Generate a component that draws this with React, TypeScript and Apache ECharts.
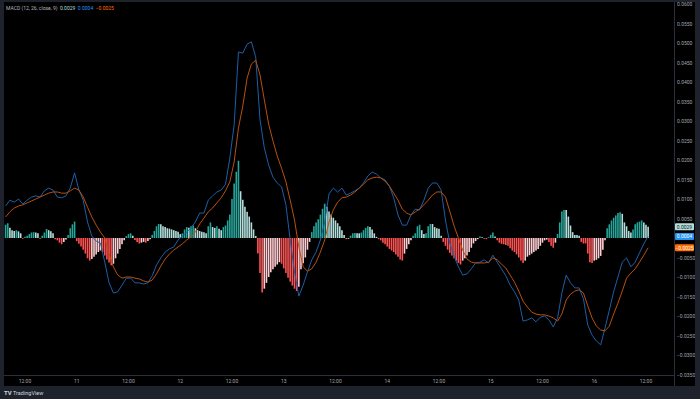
import React, { useEffect, useRef } from "react";
import * as echarts from "echarts";

// Time is expressed in hours after day 10, 00:00 (30-minute bars)
const BAR_START_HOUR = 7.5;
const BAR_STEP_HOURS = 0.5;
const LINE_START_HOUR = 7.5;
const LINE_STEP_HOURS = 1;

// MACD histogram (one value per 30-minute bar)
const histogram = [
  0.0034, 0.0038, 0.0026, 0.0020, 0.0018, 0.0020, 0.0017, 0.0012, -0.0002, 0.0003,
  0.0006, 0.0010, 0.0014, 0.0015, 0.0014, 0.0012, -0.0002, 0.0006, 0.0014, 0.0023,
  0.0020, 0.0017, 0.0012, -0.0003, -0.0006, -0.0012, -0.0016, -0.0010, -0.0004, 0.0008,
  0.0025, 0.0035, 0.0042, -0.0008, -0.0015, -0.0022, -0.0030, -0.0040, -0.0052, -0.0058,
  -0.0054, -0.0048, -0.0042, -0.0036, -0.0032, -0.0036, -0.0045, -0.0055, -0.0063, -0.0070,
  -0.0066, -0.0052, -0.0040, -0.0028, -0.0016, -0.0006, 0.0005, 0.0010, 0.0012, 0.0006,
  -0.0005, -0.0010, -0.0014, -0.0012, -0.0010, -0.0012, -0.0008, -0.0003, 0.0008, 0.0018,
  0.0030, 0.0036, 0.0035, 0.0030, 0.0028, 0.0025, 0.0024, 0.0022, 0.0020, 0.0018,
  0.0016, 0.0010, 0.0012, 0.0022, 0.0028, 0.0026, 0.0030, 0.0032, 0.0025, 0.0020,
  0.0018, 0.0016, 0.0015, 0.0012, 0.0030, 0.0040, 0.0028, 0.0026, 0.0030, 0.0024,
  0.0020, 0.0028, 0.0032, 0.0045, 0.0060, 0.0100, 0.0140, 0.0170, 0.0198, 0.0120,
  0.0098, 0.0080, 0.0067, 0.0055, 0.0040, 0.0022, 0.0005, -0.0040, -0.0090, -0.0140,
  -0.0130, -0.0115, -0.0100, -0.0088, -0.0080, -0.0074, -0.0068, -0.0062, -0.0066, -0.0078,
  -0.0090, -0.0102, -0.0112, -0.0122, -0.0130, -0.0136, -0.0125, -0.0080, -0.0065, -0.0050,
  -0.0030, -0.0010, 0.0015, 0.0030, 0.0040, 0.0048, 0.0060, 0.0075, 0.0088, 0.0080,
  0.0068, 0.0060, 0.0052, 0.0045, 0.0038, 0.0030, 0.0020, 0.0008, -0.0003, -0.0002,
  0.0006, 0.0012, 0.0013, 0.0012, 0.0012, 0.0014, 0.0020, 0.0026, 0.0030, 0.0028,
  0.0022, 0.0012, 0.0003, -0.0003, -0.0006, -0.0012, -0.0016, -0.0022, -0.0028, -0.0032,
  -0.0036, -0.0042, -0.0048, -0.0055, -0.0058, -0.0040, -0.0028, -0.0016, -0.0006, 0.0006,
  0.0012, 0.0030, 0.0034, 0.0020, 0.0010, 0.0012, 0.0030, 0.0036, 0.0036, 0.0028,
  0.0025, 0.0024, 0.0006, -0.0010, -0.0020, -0.0030, -0.0038, -0.0045, -0.0052, -0.0058,
  -0.0064, -0.0068, -0.0058, -0.0052, -0.0045, -0.0036, -0.0025, -0.0014, -0.0008, -0.0003,
  0.0004, 0.0002, -0.0002, -0.0003, 0.0002, 0.0008, 0.0014, 0.0004, -0.0006, -0.0012,
  -0.0015, -0.0016, -0.0018, -0.0020, -0.0026, -0.0032, -0.0036, -0.0042, -0.0050, -0.0058,
  -0.0064, -0.0058, -0.0048, -0.0044, -0.0040, -0.0036, -0.0032, -0.0028, -0.0020, -0.0012,
  -0.0006, -0.0004, -0.0010, -0.0020, -0.0025, -0.0012, 0.0010, 0.0040, 0.0068, 0.0072,
  0.0072, 0.0055, 0.0032, 0.0015, 0.0008, 0.0008, 0.0006, -0.0010, -0.0014, -0.0014,
  -0.0040, -0.0062, -0.0064, -0.0058, -0.0056, -0.0052, -0.0046, -0.0030, -0.0006, 0.0025,
  0.0035, 0.0045, 0.0052, 0.0058, 0.0064, 0.0066, 0.0062, 0.0040, 0.0030, 0.0018,
  0.0014, 0.0022, 0.0035, 0.0040, 0.0042, 0.0045, 0.0040, 0.0034, 0.0029,
];

// MACD line (hourly samples)
const macdLine = [
  0.0082, 0.0097, 0.0092, 0.0100, 0.0087, 0.0097, 0.0105, 0.0108, 0.0105, 0.0121,
  0.0128, 0.0123, 0.0105, 0.0103, 0.0108, 0.0128, 0.0167, 0.0123, 0.0097, 0.0041,
  0.0005, -0.0008, -0.0013, -0.0062, -0.0115, -0.0141, -0.0138, -0.0121, -0.0103, -0.0103,
  -0.0115, -0.0115, -0.0118, -0.0115, -0.0097, -0.0069, -0.0051, -0.0036, -0.0028, -0.0023,
  -0.0005, 0.0005, 0.0015, 0.0026, 0.0041, 0.0064, 0.0064, 0.0097, 0.0108, 0.0118,
  0.0123, 0.0138, 0.0205, 0.0290, 0.0477, 0.0474, 0.0497, 0.0503, 0.0464, 0.0303,
  0.0231, 0.0187, 0.0156, 0.0141, 0.0131, 0.0085, -0.0005, -0.0087, -0.0149, -0.0121,
  -0.0087, -0.0056, -0.0036, -0.0005, 0.0041, 0.0113, 0.0128, 0.0118, 0.0128, 0.0110,
  0.0115, 0.0121, 0.0128, 0.0141, 0.0159, 0.0169, 0.0164, 0.0154, 0.0149, 0.0133,
  0.0103, 0.0059, 0.0033, 0.0033, 0.0059, 0.0074, 0.0072, 0.0097, 0.0128, 0.0141,
  0.0141, 0.0123, 0.0046, -0.0013, -0.0046, -0.0074, -0.0095, -0.0092, -0.0079, -0.0064,
  -0.0062, -0.0056, -0.0064, -0.0044, -0.0062, -0.0079, -0.0097, -0.0121, -0.0138, -0.0159,
  -0.0213, -0.0210, -0.0205, -0.0215, -0.0203, -0.0200, -0.0210, -0.0228, -0.0205, -0.0141,
  -0.0095, -0.0115, -0.0128, -0.0128, -0.0156, -0.0223, -0.0249, -0.0264, -0.0274, -0.0231,
  -0.0185, -0.0138, -0.0100, -0.0062, -0.0051, -0.0074, -0.0062, -0.0038, -0.0015, 0.0004,
];

// Signal line (hourly samples)
const signalLine = [
  0.0054, 0.0067, 0.0077, 0.0082, 0.0085, 0.0090, 0.0095, 0.0100, 0.0105, 0.0110,
  0.0115, 0.0118, 0.0118, 0.0115, 0.0115, 0.0121, 0.0128, 0.0123, 0.0105, 0.0079,
  0.0054, 0.0033, 0.0015, 0.0000, -0.0041, -0.0074, -0.0095, -0.0103, -0.0100, -0.0100,
  -0.0103, -0.0105, -0.0110, -0.0113, -0.0108, -0.0092, -0.0072, -0.0054, -0.0041, -0.0031,
  -0.0023, -0.0015, -0.0005, 0.0003, 0.0015, 0.0036, 0.0051, 0.0067, 0.0077, 0.0090,
  0.0103, 0.0121, 0.0144, 0.0195, 0.0282, 0.0338, 0.0410, 0.0446, 0.0456, 0.0418,
  0.0354, 0.0292, 0.0249, 0.0210, 0.0179, 0.0144, 0.0097, 0.0046, -0.0023, -0.0074,
  -0.0085, -0.0079, -0.0062, -0.0036, -0.0005, 0.0041, 0.0072, 0.0092, 0.0103, 0.0105,
  0.0110, 0.0118, 0.0128, 0.0138, 0.0149, 0.0154, 0.0156, 0.0154, 0.0146, 0.0133,
  0.0115, 0.0097, 0.0074, 0.0064, 0.0059, 0.0067, 0.0074, 0.0085, 0.0097, 0.0110,
  0.0118, 0.0118, 0.0105, 0.0069, 0.0031, 0.0000, -0.0031, -0.0054, -0.0062, -0.0064,
  -0.0064, -0.0064, -0.0062, -0.0051, -0.0056, -0.0067, -0.0077, -0.0095, -0.0113, -0.0136,
  -0.0162, -0.0177, -0.0190, -0.0195, -0.0197, -0.0197, -0.0200, -0.0205, -0.0213, -0.0195,
  -0.0159, -0.0144, -0.0136, -0.0133, -0.0141, -0.0174, -0.0205, -0.0226, -0.0236, -0.0238,
  -0.0226, -0.0195, -0.0167, -0.0136, -0.0103, -0.0090, -0.0079, -0.0062, -0.0044, -0.0025,
];

// Time-axis ticks (hours) and their labels
const timeTickHours = [12, 24, 36, 48, 60, 72, 84, 96, 108, 120, 132, 144, 156];
const timeTickLabels = ["12:00", "11", "12:00", "12", "12:00", "13", "12:00", "14", "12:00", "15", "12:00", "16", "12:00"];

const LEGEND_TITLE = "MACD (12, 26, close, 9)";

const GROW_ABOVE = "#26a69a";
const FALL_ABOVE = "#b2dfdb";
const GROW_BELOW = "#ffcdd2";
const FALL_BELOW = "#ff5252";
const MACD_COLOR = "#2196f3";
const SIGNAL_COLOR = "#ff6d00";
const MACD_LINE_COLOR = "#1d5ea6";
const SIGNAL_LINE_COLOR = "#b9500f";
const FRAME = "#1e222d";
const SEP = "#2a2e39";
const TEXT = "#a3a6af";
const FONT = "Roboto, 'Noto Sans', sans-serif";

const fmt = (v: number) => (v < 0 ? "\u2212" : "") + Math.abs(v).toFixed(4);

export default function App() {
  const ref = useRef<HTMLDivElement>(null);

  useEffect(() => {
    document.body.style.margin = "0";
    const el = ref.current!;
    const chart = echarts.init(el, undefined, { renderer: "svg", width: 700, height: 399 });

    const histData = histogram.map((v, i) => {
      const prev = i > 0 ? histogram[i - 1] : v - 0.0001;
      let color: string;
      if (v >= 0) color = v > prev ? GROW_ABOVE : FALL_ABOVE;
      else color = v > prev ? GROW_BELOW : FALL_BELOW;
      return { value: [BAR_START_HOUR + i * BAR_STEP_HOURS, v], itemStyle: { color } };
    });
    const macdData = macdLine.map((v, j) => [LINE_START_HOUR + j * LINE_STEP_HOURS, v]);
    const signalData = signalLine.map((v, j) => [LINE_START_HOUR + j * LINE_STEP_HOURS, v]);

    const option: any = {
      animation: false,
      backgroundColor: "#000000",
      grid: { left: 4, right: 26, top: 4, bottom: 24.5, containLabel: false, outerBoundsMode: "none" },
      xAxis: {
        type: "value",
        min: 7.13,
        max: 162.5,
        axisLine: { show: false },
        axisTick: { show: false },
        splitLine: { show: false },
        axisLabel: {
          customValues: timeTickHours,
          formatter: (v: number) => {
            const k = timeTickHours.indexOf(Math.round(v));
            return k >= 0 ? timeTickLabels[k] : "";
          },
          color: TEXT,
          fontSize: 5,
          fontFamily: FONT,
          margin: 4,
        },
      },
      yAxis: {
        type: "value",
        position: "right",
        min: -0.035,
        max: 0.06,
        interval: 0.005,
        axisLine: { show: false },
        axisTick: { show: false },
        splitLine: { show: false },
        axisLabel: {
          // the zero label sits under the last-value boxes, as in the reference
          formatter: (v: number) => (Math.abs(v) < 1e-9 ? "" : fmt(v)),
          color: TEXT,
          fontSize: 5,
          fontFamily: FONT,
          margin: 3,
          align: "left",
        },
      },
      series: [
        { type: "bar", data: histData, barWidth: 1.6, z: 2 },
        {
          type: "line",
          data: macdData,
          symbol: "none",
          showSymbol: false,
          lineStyle: { width: 1, color: MACD_LINE_COLOR },
          itemStyle: { color: MACD_LINE_COLOR },
          z: 3,
        },
        {
          type: "line",
          data: signalData,
          symbol: "none",
          showSymbol: false,
          lineStyle: { width: 1, color: SIGNAL_LINE_COLOR },
          itemStyle: { color: SIGNAL_LINE_COLOR },
          z: 3,
        },
      ],
    };
    chart.setOption(option);

    const lastHist = histogram[histogram.length - 1];
    const lastMacd = macdLine[macdLine.length - 1];
    const lastSignal = signalLine[signalLine.length - 1];
    const boxes = [
      { v: lastHist, bg: FALL_ABOVE, fg: "#131722" },
      { v: lastMacd, bg: MACD_COLOR, fg: "#ffffff" },
      { v: lastSignal, bg: SIGNAL_COLOR, fg: "#ffffff" },
    ];
    const boxEls: any[] = [];
    boxes.forEach((b) => {
      const py = chart.convertToPixel({ yAxisIndex: 0 }, b.v) as number;
      boxEls.push({
        type: "rect",
        shape: { x: 675, y: py - 3.5, width: 19, height: 7, r: 1 },
        style: { fill: b.bg },
        z: 100,
      });
      boxEls.push({
        type: "text",
        x: 684.5,
        y: py,
        style: { text: fmt(b.v), fill: b.fg, fontSize: 5, fontFamily: FONT, align: "center", verticalAlign: "middle" },
        z: 101,
      });
    });

    chart.setOption({
      graphic: [
        // frame around the pane
        { type: "rect", shape: { x: 0, y: 0, width: 4, height: 399 }, style: { fill: FRAME }, z: 200 },
        { type: "rect", shape: { x: 0, y: 0, width: 700, height: 2 }, style: { fill: FRAME }, z: 200 },
        { type: "rect", shape: { x: 695, y: 0, width: 5, height: 399 }, style: { fill: FRAME }, z: 200 },
        { type: "rect", shape: { x: 0, y: 386, width: 700, height: 13 }, style: { fill: FRAME }, z: 200 },
        // separators
        { type: "line", shape: { x1: 674.5, y1: 2, x2: 674.5, y2: 386 }, style: { stroke: SEP, lineWidth: 1 }, z: 150 },
        { type: "line", shape: { x1: 4, y1: 375.5, x2: 674.5, y2: 375.5 }, style: { stroke: SEP, lineWidth: 1 }, z: 150 },
        // legend
        {
          type: "text",
          x: 6,
          y: 8,
          style: {
            text: `{a|${LEGEND_TITLE}}  {b|${fmt(lastHist)}}  {c|${fmt(lastMacd)}}  {d|${fmt(lastSignal)}}`,
            fontSize: 5,
            fontFamily: FONT,
            verticalAlign: "middle",
            rich: {
              a: { fill: "#b2b5be", fontSize: 5, fontFamily: FONT },
              b: { fill: FALL_ABOVE, fontSize: 5, fontFamily: FONT },
              c: { fill: MACD_COLOR, fontSize: 5, fontFamily: FONT },
              d: { fill: SIGNAL_COLOR, fontSize: 5, fontFamily: FONT },
            },
          },
          z: 210,
        },
        // watermark
        {
          type: "text",
          x: 4,
          y: 392.5,
          style: { text: "TV", fill: "#d1d4dc", fontSize: 6, fontWeight: "bold", fontFamily: FONT, verticalAlign: "middle" },
          z: 210,
        },
        {
          type: "text",
          x: 13,
          y: 392.5,
          style: { text: "TradingView", fill: "#d1d4dc", fontSize: 5.5, fontFamily: FONT, verticalAlign: "middle" },
          z: 210,
        },
        ...boxEls,
      ],
    });

    return () => chart.dispose();
  }, []);

  return (
    <div
      ref={ref}
      style={{ position: "fixed", left: 0, top: 0, width: 700, height: 399, background: "#000" }}
    />
  );
}
